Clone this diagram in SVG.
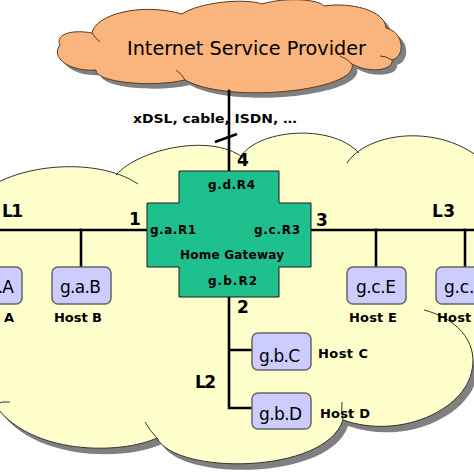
<svg xmlns="http://www.w3.org/2000/svg" width="474" height="474" viewBox="0 0 474 474">
<style>
  text { font-family: "DejaVu Sans", "Liberation Sans", sans-serif; fill: #000; }
  .b { font-weight: bold; }
  .lbl { font-size: 12px; font-weight: bold; }
  .gw { font-size: 12px; font-weight: bold; }
  .num { font-size: 17px; font-weight: bold; }
  .box { fill: #ccccff; stroke: #666; stroke-width: 1.5; }
  .boxt { font-size: 17px; }
  .host { font-size: 13px; font-weight: bold; }
  .wire { stroke: #000; stroke-width: 2.6; fill: none; stroke-linecap: square; }
  .cl { fill: none; stroke: #333; stroke-width: 1; }
</style>
<defs>
  <path id="bigcloud" d="M -20,195 C 10,165 95,155 138,184 L 116,175 C 140,148 215,132 246,160 L 240,158 C 255,130 330,122 359,153 L 347,163 C 370,128 460,120 500,180 L 510,180 L 510,357 L 474,357 L 472,370 C 465,410 400,440 343,420 C 325,475 175,475 157,438 C 120,455 30,455 -5,405 L -20,405 Z"/>
  <path id="ispcloud" d="M 60,45 C 55,35 70,29 92,33 C 95,15 140,2 182,14 C 200,2 245,-2 262,4 C 285,-3 318,-1 324,6 C 350,2 385,10 386,28 C 404,32 406,56 392,60 C 394,70 370,74 352,64 C 360,90 230,105 185,80 C 150,88 95,82 96,70 C 70,72 50,58 60,45 Z"/>
</defs>
<rect width="474" height="474" fill="#fff"/>

<g id="lan-cloud">
  <use href="#bigcloud" transform="translate(5,6)" fill="#808080"/>
  <use href="#bigcloud" fill="#ffffcc"/>
  <path class="cl" d="M -20,195 C 10,165 95,155 138,184"/>
  <path class="cl" d="M 116,175 C 140,148 215,132 246,160"/>
  <path class="cl" d="M 240,158 C 255,130 330,122 359,153"/>
  <path class="cl" d="M 347,163 C 370,128 460,120 500,180"/>
  <path class="cl" d="M 424,310 C 455,318 478,340 472,370 C 465,410 400,440 343,420"/>
  <path class="cl" d="M 342,402 Q 341,412 343,420 C 325,475 175,475 157,438 Q 150,431 145,422"/>
  <path class="cl" d="M 157,438 C 120,455 30,455 -5,405"/>
  <path class="cl" d="M -5,404 Q 3,401 10,402"/>
</g>

<g id="isp">
  <use href="#ispcloud" transform="translate(5,5)" fill="#808080"/>
  <use href="#ispcloud" fill="#fab47e" stroke="#5a3a1e" stroke-width="1"/>
  <path d="M 92,33 Q 95,38 100,42 M 352,64 Q 346,58 340,56 M 185,80 Q 182,74 176,70 M 392,60 Q 386,56 380,56" fill="none" stroke="#5a3a1e" stroke-width="1"/>
  <text x="127" y="55" font-size="20" textLength="239" lengthAdjust="spacingAndGlyphs">Internet Service Provider</text>
</g>

<g id="connectors">
  <line class="wire" x1="229" y1="91" x2="229" y2="171"/>
  <line x1="215" y1="142" x2="237" y2="134" stroke="#000" stroke-width="2.6"/>
  <line class="wire" x1="-5" y1="230" x2="147" y2="230"/>
  <line class="wire" x1="81" y1="230" x2="81" y2="267"/>
  <line class="wire" x1="311" y1="230" x2="480" y2="230"/>
  <line class="wire" x1="376" y1="230" x2="376" y2="267"/>
  <line class="wire" x1="465" y1="230" x2="465" y2="267"/>
  <path class="wire" d="M 229,297 V 408 H 252 M 229,350 H 252" stroke-linejoin="miter"/>
</g>

<g id="labels">
  <text class="b" x="133" y="123" font-size="12" textLength="164" lengthAdjust="spacingAndGlyphs">xDSL, cable, ISDN, …</text>
  <text class="num" x="237" y="166">4</text>
  <text class="num" x="129" y="225">1</text>
  <text class="num" x="316" y="226">3</text>
  <text class="num" x="237" y="313">2</text>
  <text class="num" x="2" y="217" textLength="21">L1</text>
  <text class="num" x="432" y="217" textLength="23">L3</text>
  <text class="num" x="195" y="388" textLength="21">L2</text>
</g>

<g id="gateway">
  <path d="M179,171 H279 V203 H311 V267 H279 V297 H179 V267 H147 V203 H179 Z" fill="#1ec08e" stroke="#1a1a1a" stroke-width="1"/>
  <text class="gw" x="208" y="189" textLength="47">g.d.R4</text>
  <text class="gw" x="150" y="234" textLength="46">g.a.R1</text>
  <text class="gw" x="254" y="234" textLength="46">g.c.R3</text>
  <text class="lbl" x="180" y="259" textLength="104">Home Gateway</text>
  <text class="gw" x="208" y="285" textLength="49">g.b.R2</text>
</g>

<g id="hostA">
  <rect class="box" x="-37" y="267" width="59" height="37" rx="6"/>
  <text class="boxt" x="-27" y="293" textLength="41">g.a.A</text>
  <text class="host" x="-34" y="322" textLength="48">Host A</text>
</g>
<g id="hostB">
  <rect class="box" x="52" y="267" width="59" height="37" rx="6"/>
  <text class="boxt" x="60" y="293" textLength="41">g.a.B</text>
  <text class="host" x="54" y="322" textLength="48">Host B</text>
</g>
<g id="hostC">
  <rect class="box" x="252" y="333" width="59" height="37" rx="6"/>
  <text class="boxt" x="259" y="362" textLength="41">g.b.C</text>
  <text class="host" x="318" y="358" textLength="50">Host C</text>
</g>
<g id="hostD">
  <rect class="box" x="252" y="393" width="59" height="36" rx="6"/>
  <text class="boxt" x="259" y="420" textLength="43">g.b.D</text>
  <text class="host" x="320" y="418" textLength="50">Host D</text>
</g>
<g id="hostE">
  <rect class="box" x="347" y="267" width="59" height="37" rx="6"/>
  <text class="boxt" x="356" y="293" textLength="40">g.c.E</text>
  <text class="host" x="349" y="322" textLength="48">Host E</text>
</g>
<g id="hostF">
  <rect class="box" x="436" y="267" width="59" height="37" rx="6"/>
  <text class="boxt" x="444" y="293" textLength="40">g.c.F</text>
  <text class="host" x="437" y="322" textLength="48">Host F</text>
</g>
</svg>
